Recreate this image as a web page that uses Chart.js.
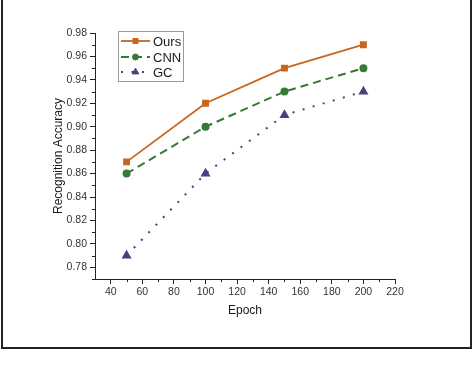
<!DOCTYPE html>
<html>
<head>
<meta charset="utf-8">
<script src="https://cdn.jsdelivr.net/npm/chart.js@4.4.0/dist/chart.umd.min.js"></script>
<style>
  html, body { margin: 0; padding: 0; background: #fff; }
  #wrap { position: relative; width: 474px; height: 373px; }
  #frame {
    position: absolute; left: 1px; top: 0; width: 467px; height: 347px;
    border-left: 2px solid #222; border-right: 2px solid #222; border-bottom: 2px solid #222;
    pointer-events: none;
  }
</style>
</head>
<body>
<div id="wrap">
  <canvas id="chart" width="474" height="373"></canvas>
  <div id="frame"></div>
</div>
<script>
'use strict';

// values
const epochs = [50, 100, 150, 200];
const oursAcc = [0.87, 0.92, 0.95, 0.97];
const cnnAcc = [0.86, 0.90, 0.93, 0.95];
const gcAcc = [0.79, 0.86, 0.91, 0.93];

const xTickValues = [40, 60, 80, 100, 120, 140, 160, 180, 200, 220];
const xMinorTicks = [50, 70, 90, 110, 130, 150, 170, 190, 210];
const yTickValues = [0.78, 0.80, 0.82, 0.84, 0.86, 0.88, 0.90, 0.92, 0.94, 0.96, 0.98];
const yMinorTicks = [0.77, 0.79, 0.81, 0.83, 0.85, 0.87, 0.89, 0.91, 0.93, 0.95, 0.97];

const FONT = "'Liberation Sans', Arial, sans-serif";
const AXIS = '#222';

const toPoints = ys => ys.map((y, i) => ({ x: epochs[i], y }));

// minor ticks, Origin style
const minorTicks = {
  id: 'minorTicks',
  afterDraw(chart) {
    const { ctx, chartArea, scales } = chart;
    ctx.save();
    ctx.strokeStyle = AXIS;
    ctx.lineWidth = 1;
    ctx.beginPath();
    yMinorTicks.forEach(v => {
      const py = Math.round(scales.y.getPixelForValue(v)) + 0.5;
      ctx.moveTo(chartArea.left - 3, py);
      ctx.lineTo(chartArea.left, py);
    });
    xMinorTicks.forEach(v => {
      const px = Math.round(scales.x.getPixelForValue(v)) + 0.5;
      ctx.moveTo(px, chartArea.bottom);
      ctx.lineTo(px, chartArea.bottom + 3);
    });
    ctx.stroke();
    ctx.restore();
  }
};

// boxed legend with line + marker samples
const boxLegend = {
  id: 'boxLegend',
  afterDraw(chart) {
    const { ctx } = chart;
    const box = { x: 118.5, y: 31.5, w: 65, h: 50 };
    ctx.save();
    ctx.fillStyle = '#fff';
    ctx.fillRect(box.x, box.y, box.w, box.h);
    ctx.strokeStyle = '#9a9a9a';
    ctx.lineWidth = 1;
    ctx.strokeRect(box.x, box.y, box.w, box.h);
    const rows = [41, 57, 72];
    chart.data.datasets.forEach((ds, i) => {
      const y = rows[i];
      ctx.strokeStyle = ds.borderColor;
      ctx.lineWidth = ds.borderWidth;
      ctx.setLineDash(ds.borderDash || []);
      ctx.beginPath();
      ctx.moveTo(121, y);
      ctx.lineTo(150, y);
      ctx.stroke();
      ctx.setLineDash([]);
      ctx.fillStyle = ds.pointBackgroundColor;
      ctx.strokeStyle = ds.pointBorderColor;
      ctx.lineWidth = 1;
      Chart.helpers.drawPoint(ctx, { pointStyle: ds.pointStyle, radius: ds.pointRadius, rotation: 0, borderWidth: 1 }, 135.5, y);
      ctx.fillStyle = '#1a1a1a';
      ctx.font = '13px ' + FONT;
      ctx.textBaseline = 'middle';
      ctx.textAlign = 'left';
      ctx.fillText(ds.label, 153, y + 1);
    });
    ctx.restore();
  }
};

new Chart(document.getElementById('chart'), {
  type: 'line',
  data: {
    datasets: [
      {
        label: 'Ours',
        data: toPoints(oursAcc),
        borderColor: '#C8651F',
        backgroundColor: '#C8651F',
        pointBackgroundColor: '#C8651F',
        pointBorderColor: '#C8651F',
        borderWidth: 1.8,
        pointStyle: 'rect',
        pointRadius: 3.6
      },
      {
        label: 'CNN',
        data: toPoints(cnnAcc),
        borderColor: '#367A36',
        backgroundColor: '#367A36',
        pointBackgroundColor: '#367A36',
        pointBorderColor: '#367A36',
        borderWidth: 2,
        borderDash: [8, 5],
        pointStyle: 'circle',
        pointRadius: 3
      },
      {
        label: 'GC',
        data: toPoints(gcAcc),
        borderColor: '#4B3F7C',
        backgroundColor: '#4B3F7C',
        pointBackgroundColor: '#4B3F7C',
        pointBorderColor: '#4B3F7C',
        borderWidth: 2,
        borderDash: [2, 8.5],
        pointStyle: 'triangle',
        pointRadius: 3.8
      }
    ]
  },
  options: {
    responsive: false,
    animation: false,
    devicePixelRatio: 1,
    layout: { padding: { top: 33, right: 79, left: 0, bottom: 0 } },
    plugins: {
      legend: { display: false },
      tooltip: { enabled: false }
    },
    scales: {
      x: {
        type: 'linear',
        min: 30,
        max: 220,
        afterFit: scale => { scale.height = 94; },
        afterBuildTicks: scale => { scale.ticks = xTickValues.map(value => ({ value })); },
        grid: { drawOnChartArea: false, drawTicks: true, tickLength: 5, color: AXIS },
        border: { display: true, color: AXIS, width: 1 },
        ticks: { color: '#333', font: { family: FONT, size: 10.5 }, padding: 2, maxRotation: 0 },
        title: {
          display: true, text: 'Epoch', color: '#1a1a1a',
          font: { family: FONT, size: 12 }, padding: { top: 0, bottom: 55 }
        }
      },
      y: {
        min: 0.77,
        max: 0.98,
        afterFit: scale => { scale.width = 95; },
        afterBuildTicks: scale => { scale.ticks = yTickValues.map(value => ({ value })); },
        grid: { drawOnChartArea: false, drawTicks: true, tickLength: 5, color: AXIS },
        border: { display: true, color: AXIS, width: 1 },
        ticks: {
          color: '#333', font: { family: FONT, size: 10.5 }, padding: 3,
          callback: v => v.toFixed(2)
        },
        title: {
          display: true, text: 'Recognition Accuracy', color: '#1a1a1a',
          font: { family: FONT, size: 12 }, padding: { top: 51, bottom: 0 }
        }
      }
    }
  },
  plugins: [minorTicks, boxLegend]
});
</script>
</body>
</html>
